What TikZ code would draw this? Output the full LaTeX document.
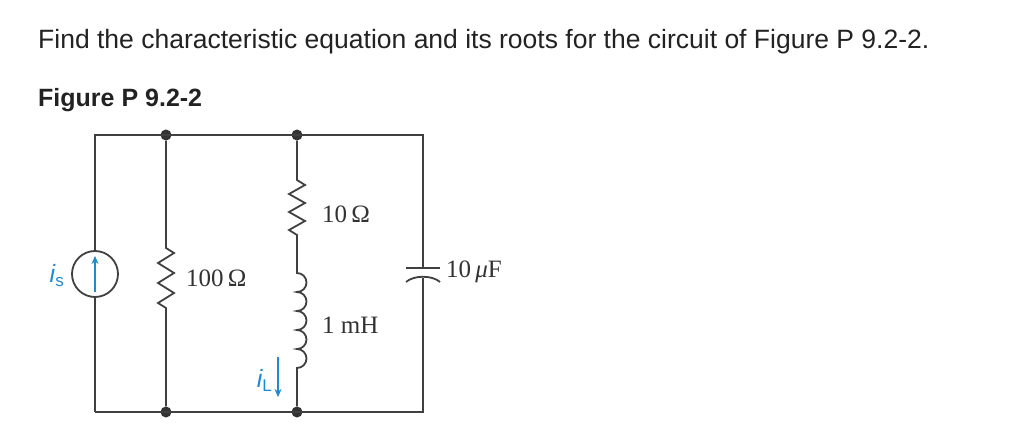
\documentclass[tikz,border=0pt]{standalone}
\usepackage{fontspec}
\setmainfont{Liberation Serif}
\newfontfamily\sansf{Liberation Sans}
\usetikzlibrary{arrows.meta}
\definecolor{txt}{HTML}{222222}
\definecolor{cblue}{HTML}{1E8AD0}
\definecolor{lab}{HTML}{333333}
\begin{document}
\begin{tikzpicture}[x=1pt,y=-1pt,
  wire/.style={line width=1.8pt,color=black!75},
  dot/.style={circle,fill=black!80,inner sep=0,minimum size=11pt},
  lbl/.style={font=\fontsize{25}{25}\selectfont,color=lab,inner sep=0},
  blu/.style={color=cblue,line width=1.6pt,-{Stealth[length=8pt,width=7pt]}}]
\useasboundingbox (0,0) rectangle (1024,446);
\node[anchor=west,font=\sansf\fontsize{26.5}{26.5}\selectfont,color=txt,inner sep=0] (title) at (38,42) {Find the characteristic equation and its roots for the circuit of Figure P 9.2-2.};
\node[anchor=west,font=\sansf\bfseries\fontsize{25}{25}\selectfont,color=txt,inner sep=0] (fig) at (38,100) {Figure P 9.2-2};
% nodes
\coordinate (tl) at (95,135); \coordinate (bl) at (95,412);
\node[dot] (t1) at (166,135) {}; \node[dot] (t2) at (297,135) {};
\node[dot] (b1) at (166,412) {}; \node[dot] (b2) at (297,412) {};
\coordinate (tr) at (423,135); \coordinate (br) at (423,412);
% frame
\draw[wire] (bl) -- (tl) -- (tr) -- (br) -- (bl);
% source
\node[draw=black!75,line width=1.8pt,circle,minimum size=46pt,inner sep=0,fill=white] (src) at (95,274) {};
\draw[blu] (95,292) -- (95,256);
\node[anchor=east,font=\sansf\itshape\fontsize{25}{25}\selectfont,color=cblue,inner sep=0] (is) at (64,276) {i\raisebox{-4pt}{\upshape\fontsize{17}{17}\selectfont s}};
% 100 ohm
\draw[wire] (t1) -- (166,248) -- (174,253) -- (158,263) -- (174,273) -- (158,283) -- (174,293) -- (158,303) -- (166,308) -- (b1);
\node[lbl,anchor=west] (r1) at (186,278) {100\,\symbol{"03A9}};
% 10 ohm + inductor
\draw[wire] (t2) -- (297,180) -- (305,185) -- (289,194) -- (305,203) -- (289,212) -- (305,221) -- (289,230) -- (297,235) -- (297,273)
  arc[start angle=-90,end angle=90,radius=9.5]
  arc[start angle=-90,end angle=90,radius=9.5]
  arc[start angle=-90,end angle=90,radius=9.5]
  arc[start angle=-90,end angle=90,radius=9.5]
  arc[start angle=-90,end angle=90,radius=9.5] -- (b2);
\node[lbl,anchor=west] (r2) at (322,214) {10\,\symbol{"03A9}};
\node[lbl,anchor=west] (l1) at (322,325) {1 mH};
\draw[blu] (278,357) -- (278,397);
\node[anchor=east,font=\sansf\itshape\fontsize{25}{25}\selectfont,color=cblue,inner sep=0] (il) at (272,380) {i\raisebox{-4pt}{\upshape\fontsize{17}{17}\selectfont L}};
% capacitor
\draw[white,line width=4pt] (423,269) -- (423,278);
\draw[wire] (406,268) -- (440,268);
\draw[wire] (406,282) .. controls (414,275) and (432,275) .. (440,282);
\node[lbl,anchor=west] (c1) at (446,272) {10\,{\itshape μ}F};
\end{tikzpicture}
\end{document}
